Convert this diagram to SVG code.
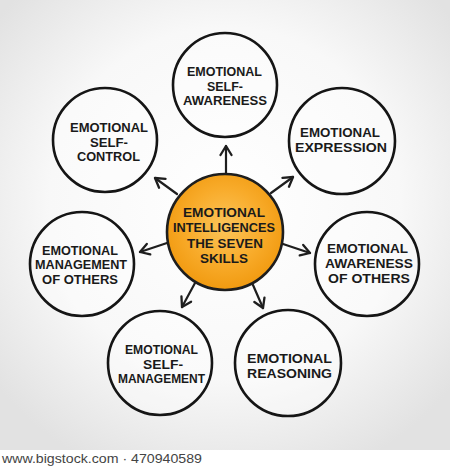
<svg xmlns="http://www.w3.org/2000/svg" width="450" height="470" viewBox="0 0 450 470">
  <defs>
    <radialGradient id="bg" cx="50%" cy="45%" r="65%">
      <stop offset="0" stop-color="#ffffff"/>
      <stop offset="0.6" stop-color="#f8f8f8"/>
      <stop offset="1" stop-color="#e2e2e2"/>
    </radialGradient>
    <radialGradient id="orange" cx="50%" cy="45%" r="55%">
      <stop offset="0" stop-color="#fcc55a"/>
      <stop offset="0.6" stop-color="#f8ab2a"/>
      <stop offset="1" stop-color="#f19a10"/>
    </radialGradient>
    <marker id="arr" markerWidth="14" markerHeight="14" refX="11" refY="7" orient="auto" markerUnits="userSpaceOnUse">
      <path d="M2,1.5 L11,7 L2,12.5" fill="none" stroke="#1e1e1e" stroke-width="2.3" stroke-linecap="round" stroke-linejoin="round"/>
    </marker>
  </defs>
  <style>
    .node { fill: #ffffff; fill-opacity: 0.35; stroke: #151515; stroke-width: 2.6; }
    .hub { fill: url(#orange); stroke: #1e1e1e; stroke-width: 2.6; }
    .lbl { font-family: "Liberation Sans", Arial, sans-serif; font-weight: bold; font-size: 13px; fill: #1a1a1a; text-anchor: middle; }
    .conn line { stroke: #1e1e1e; stroke-width: 2.2; stroke-linecap: round; marker-end: url(#arr); }
    .foot { font-family: "Liberation Sans", Arial, sans-serif; font-size: 13px; fill: #444; }
  </style>
  <rect x="0" y="0" width="450" height="450" fill="url(#bg)"/>
  <rect x="0" y="450" width="450" height="20" fill="#ffffff"/>

  <g id="connectors" class="conn">
    <line x1="226" y1="173" x2="226" y2="146"/>
    <line x1="177" y1="194" x2="155" y2="178"/>
    <line x1="271" y1="193" x2="293" y2="177"/>
    <line x1="167" y1="243" x2="140" y2="252"/>
    <line x1="283" y1="244" x2="310" y2="253"/>
    <line x1="195" y1="283" x2="182" y2="307"/>
    <line x1="253" y1="285" x2="263" y2="308"/>
  </g>

  <g id="center">
    <circle class="hub" cx="225" cy="232" r="58"/>
    <text class="lbl" x="224" y="217" textLength="82" lengthAdjust="spacingAndGlyphs">EMOTIONAL</text>
    <text class="lbl" x="224" y="232" textLength="102" lengthAdjust="spacingAndGlyphs">INTELLIGENCES</text>
    <text class="lbl" x="225" y="247.5" textLength="76" lengthAdjust="spacingAndGlyphs">THE SEVEN</text>
    <text class="lbl" x="224" y="263" textLength="48" lengthAdjust="spacingAndGlyphs">SKILLS</text>
  </g>

  <g id="self-awareness">
    <circle class="node" cx="225" cy="85" r="52"/>
    <text class="lbl" x="224.5" y="76" textLength="75" lengthAdjust="spacingAndGlyphs">EMOTIONAL</text>
    <text class="lbl" x="225" y="90.5" textLength="36" lengthAdjust="spacingAndGlyphs">SELF-</text>
    <text class="lbl" x="225" y="105" textLength="84" lengthAdjust="spacingAndGlyphs">AWARENESS</text>
  </g>

  <g id="self-control">
    <circle class="node" cx="105" cy="140" r="52"/>
    <text class="lbl" x="109" y="132" textLength="78" lengthAdjust="spacingAndGlyphs">EMOTIONAL</text>
    <text class="lbl" x="109" y="146.5" textLength="38" lengthAdjust="spacingAndGlyphs">SELF-</text>
    <text class="lbl" x="108.5" y="161" textLength="63" lengthAdjust="spacingAndGlyphs">CONTROL</text>
  </g>

  <g id="expression">
    <circle class="node" cx="342" cy="141" r="53"/>
    <text class="lbl" x="340" y="137" textLength="80" lengthAdjust="spacingAndGlyphs">EMOTIONAL</text>
    <text class="lbl" x="341" y="152" textLength="92" lengthAdjust="spacingAndGlyphs">EXPRESSION</text>
  </g>

  <g id="management-of-others">
    <circle class="node" cx="82" cy="264" r="52"/>
    <text class="lbl" x="80" y="254.5" textLength="76" lengthAdjust="spacingAndGlyphs">EMOTIONAL</text>
    <text class="lbl" x="81" y="269" textLength="92" lengthAdjust="spacingAndGlyphs">MANAGEMENT</text>
    <text class="lbl" x="80" y="283.5" textLength="76" lengthAdjust="spacingAndGlyphs">OF OTHERS</text>
  </g>

  <g id="awareness-of-others">
    <circle class="node" cx="367" cy="264" r="52"/>
    <text class="lbl" x="367.5" y="253" textLength="81" lengthAdjust="spacingAndGlyphs">EMOTIONAL</text>
    <text class="lbl" x="369" y="268" textLength="88" lengthAdjust="spacingAndGlyphs">AWARENESS</text>
    <text class="lbl" x="369" y="283" textLength="82" lengthAdjust="spacingAndGlyphs">OF OTHERS</text>
  </g>

  <g id="self-management">
    <circle class="node" cx="160" cy="363" r="52"/>
    <text class="lbl" x="161.5" y="354" textLength="73" lengthAdjust="spacingAndGlyphs">EMOTIONAL</text>
    <text class="lbl" x="163" y="368.5" textLength="40" lengthAdjust="spacingAndGlyphs">SELF-</text>
    <text class="lbl" x="161.5" y="383" textLength="87" lengthAdjust="spacingAndGlyphs">MANAGEMENT</text>
  </g>

  <g id="reasoning">
    <circle class="node" cx="288" cy="363" r="53"/>
    <text class="lbl" x="289.5" y="363" textLength="85" lengthAdjust="spacingAndGlyphs">EMOTIONAL</text>
    <text class="lbl" x="289.5" y="378" textLength="85" lengthAdjust="spacingAndGlyphs">REASONING</text>
  </g>

  <text class="foot" x="2" y="463" textLength="200" lengthAdjust="spacingAndGlyphs">www.bigstock.com · 470940589</text>
</svg>
